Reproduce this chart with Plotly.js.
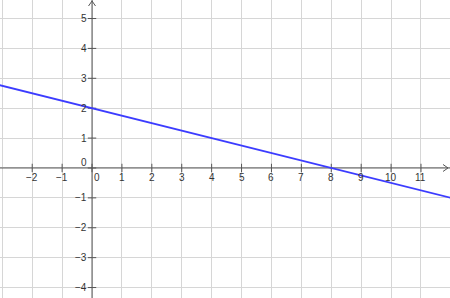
<!DOCTYPE html>
<html>
<head>
<meta charset="utf-8">
<script src="https://cdn.plot.ly/plotly-3.0.1.min.js"></script>
<style>html,body{margin:0;padding:0;background:#fff;}#chart{width:450px;height:298px;}</style>
</head>
<body>
<div id="chart"></div>
<script>
// Data
const xTicks = [-2, -1, 0, 1, 2, 3, 4, 5, 6, 7, 8, 9, 10, 11];
const yTicks = [-4, -3, -2, -1, 0, 1, 2, 3, 4, 5];
const lineX = [-4, 13];
const lineY = [3, -1.25];
const xRange = [-3.077, 11.97];
const yRange = [-4.35, 5.62];

const axisColor = '#555555';
const labelColor = '#333333';
const fmt = v => (v < 0 ? '\u2212' + Math.abs(v) : String(v));

const traces = [
  // axes lines
  {x: xRange, y: [0, 0], mode: 'lines', line: {color: axisColor, width: 1}, hoverinfo: 'skip', showlegend: false},
  {x: [0, 0], y: yRange, mode: 'lines', line: {color: axisColor, width: 1}, hoverinfo: 'skip', showlegend: false},
  // tick marks
  {x: xTicks, y: xTicks.map(() => 0), mode: 'markers', marker: {symbol: 'line-ns', size: 6, line: {color: axisColor, width: 1}}, hoverinfo: 'skip', showlegend: false},
  {x: yTicks.map(() => 0), y: yTicks, mode: 'markers', marker: {symbol: 'line-ew', size: 6, line: {color: axisColor, width: 1}}, hoverinfo: 'skip', showlegend: false},
  // the line
  {x: lineX, y: lineY, mode: 'lines', line: {color: '#3c3cff', width: 1.8}, hoverinfo: 'skip', showlegend: false}
];

const annotations = [];
xTicks.forEach(v => {
  annotations.push({x: v, y: 0, xref: 'x', yref: 'y', text: fmt(v), showarrow: false,
    xanchor: 'center', yanchor: 'top', yshift: -2, xshift: v === 0 ? 5 : 0,
    font: {family: 'Liberation Sans, Arial, sans-serif', size: 10, color: labelColor}});
});
yTicks.forEach(v => {
  annotations.push({x: 0, y: v, xref: 'x', yref: 'y', text: fmt(v), showarrow: false,
    xanchor: 'right', yanchor: 'middle', xshift: -3, yshift: v === 0 ? 5 : 0,
    font: {family: 'Liberation Sans, Arial, sans-serif', size: 10, color: labelColor}});
});

const shapes = [
  // y-axis arrow (chevron) at top
  {type: 'path', xref: 'x', yref: 'paper', xsizemode: 'pixel', ysizemode: 'pixel', xanchor: 0, yanchor: 1,
   path: 'M -3.5 -6 L 0 -1 L 3.5 -6', line: {color: axisColor, width: 1}},
  // x-axis arrow (chevron) at right
  {type: 'path', xref: 'paper', yref: 'y', xsizemode: 'pixel', ysizemode: 'pixel', xanchor: 1, yanchor: 0,
   path: 'M -7 3.5 L -2 0 L -7 -3.5', line: {color: axisColor, width: 1}}
];

const layout = {
  width: 450, height: 298,
  margin: {l: 0, r: 0, t: 0, b: 0, pad: 0},
  paper_bgcolor: '#ffffff', plot_bgcolor: '#ffffff',
  showlegend: false,
  xaxis: {range: xRange, dtick: 1, tick0: 0, showgrid: true, gridcolor: '#d6d6d6', gridwidth: 1,
          zeroline: false, showline: false, showticklabels: false, ticks: '', fixedrange: true},
  yaxis: {range: yRange, dtick: 1, tick0: 0, showgrid: true, gridcolor: '#d6d6d6', gridwidth: 1,
          zeroline: false, showline: false, showticklabels: false, ticks: '', fixedrange: true},
  annotations: annotations,
  shapes: shapes
};

Plotly.newPlot('chart', traces, layout, {displayModeBar: false, staticPlot: true});
</script>
</body>
</html>
